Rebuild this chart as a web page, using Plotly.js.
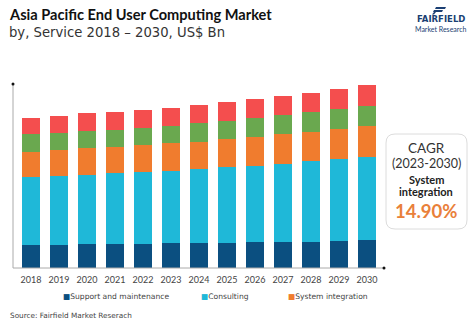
<!DOCTYPE html>
<html>
<head>
<meta charset="utf-8">
<script src="https://cdn.plot.ly/plotly-3.0.1.min.js"></script>
<style>html,body{margin:0;padding:0;background:#fff;}#chart{width:474px;height:323px;}</style>
</head>
<body>
<div id="chart"></div>
<script>
const years = ['2018','2019','2020','2021','2022','2023','2024','2025','2026','2027','2028','2029','2030'];
const supportMaintenance = [22.6,23.3,23.6,24.0,24.3,24.6,24.6,25.3,25.6,26.0,26.3,27.0,28.0];
const consulting = [68.7,69.0,69.7,70.6,71.7,72.7,74.4,75.3,76.7,78.3,80.3,81.6,83.3];
const systemIntegration = [25.0,25.7,26.3,26.7,26.6,27.3,27.3,28.0,28.7,29.3,29.7,30.4,31.0];
const segmentFour = [17.7,17.0,17.0,17.0,17.7,17.7,18.3,18.4,19.0,19.0,19.7,20.0,20.0];
const segmentFive = [16.3,17.3,18.0,17.7,18.0,18.0,18.7,19.0,19.0,19.7,19.3,20.0,20.7];
const seriesNames = ['Support and maintenance','Consulting','System integration','Other services','Managed services'];
const colors = ['#0b4f80','#1fb8d8','#f07c2e','#6aa84f','#f44e4e'];

const font = 'Lato, "Open Sans", sans-serif';
const wideFont = '"DejaVu Sans", Lato, sans-serif';
const xIdx = years.map((_, i) => i);
const data = [supportMaintenance, consulting, systemIntegration, segmentFour, segmentFive].map((vals, k) => ({
  type: 'bar', x: xIdx, y: vals, name: seriesNames[k],
  marker: {color: colors[k], line: {width: 0}},
  showlegend: false, hoverinfo: 'skip'
}));

const W = 371, H = 184, L = 13, T = 84;
const px = X => (X - L) / W;
const py = Y => (T + H - Y) / H;

function roundRect(x0, y0, x1, y1, r) {
  const rx = r / W, ry = r / H;
  const a = px(x0), b = px(x1), top = py(y0), bot = py(y1);
  return `M ${a+rx},${top} L ${b-rx},${top} Q ${b},${top} ${b},${top-ry} L ${b},${bot+ry} Q ${b},${bot} ${b-rx},${bot} L ${a+rx},${bot} Q ${a},${bot} ${a},${bot+ry} L ${a},${top-ry} Q ${a},${top} ${a+rx},${top} Z`;
}

const legendFont = {size: 7.6, color: '#444', family: wideFont};
const annotations = [
  {text: '<b>Asia Pacific End User Computing Market</b>', x: px(7), y: py(14), xanchor: 'left', yanchor: 'middle', font: {size: 14.6, color: '#111', family: font}},
  {text: 'by, Service 2018 – 2030, US$ Bn', x: px(7), y: py(32), xanchor: 'left', yanchor: 'middle', font: {size: 13.2, color: '#333', family: wideFont}},
  {text: '<span style="color:' + colors[0] + '">■</span>' + seriesNames[0], x: px(61), y: py(296), xanchor: 'left', yanchor: 'middle', font: legendFont},
  {text: '<span style="color:' + colors[1] + '">■</span>' + seriesNames[1], x: px(199), y: py(296), xanchor: 'left', yanchor: 'middle', font: legendFont},
  {text: '<span style="color:' + colors[2] + '">■</span>' + seriesNames[2], x: px(286), y: py(296), xanchor: 'left', yanchor: 'middle', font: legendFont},
  {text: 'Source: Fairfield Market Reserach', x: px(8), y: py(315), xanchor: 'left', yanchor: 'middle', font: {size: 7.3, color: '#444', family: wideFont}},
  {text: 'CAGR', x: px(426), y: py(148), xanchor: 'center', yanchor: 'middle', font: {size: 13.5, color: '#333', family: font}},
  {text: '(2023-2030)', x: px(426), y: py(163), xanchor: 'center', yanchor: 'middle', font: {size: 12.5, color: '#333', family: font}},
  {text: '<b>System</b>', x: px(426), y: py(179), xanchor: 'center', yanchor: 'middle', font: {size: 11, color: '#222', family: font}},
  {text: '<b>integration</b>', x: px(426), y: py(191), xanchor: 'center', yanchor: 'middle', font: {size: 11, color: '#222', family: font}},
  {text: '<b>14.90%</b>', x: px(426), y: py(211), xanchor: 'center', yanchor: 'middle', font: {size: 18.5, color: '#e9803a', family: font}},
  {text: '<b>FAIRFIELD</b>', x: px(441), y: py(19.5), xanchor: 'center', yanchor: 'middle', font: {size: 8.5, color: '#1b3f73', family: wideFont}},
  {text: 'Market Research', x: px(441), y: py(29.5), xanchor: 'center', yanchor: 'middle', font: {size: 7, color: '#1b3f73', family: font}}
].map(a => Object.assign({xref: 'paper', yref: 'paper', showarrow: false}, a));

const shapes = [
  {type: 'line', xref: 'paper', yref: 'paper', x0: 0, x1: 0, y0: 0, y1: 1, line: {color: '#aaa', width: 1}},
  {type: 'line', xref: 'paper', yref: 'paper', x0: 0, x1: 1, y0: 0, y1: 0, line: {color: '#aaa', width: 1}},
  {type: 'circle', xref: 'paper', yref: 'paper', x0: px(11.5), x1: px(14.5), y0: py(82.5), y1: py(85.5), fillcolor: '#111', line: {width: 0}},
  {type: 'circle', xref: 'paper', yref: 'paper', x0: px(382.5), x1: px(385.5), y0: py(266.5), y1: py(269.5), fillcolor: '#111', line: {width: 0}},
  {type: 'path', xref: 'paper', yref: 'paper', path: roundRect(386, 134, 467, 229, 9), line: {color: '#dcdcdc', width: 1}, fillcolor: 'rgba(0,0,0,0)'},
  {type: 'path', xref: 'paper', yref: 'paper', path: `M ${px(436)},${py(7)} L ${px(446)},${py(7)} L ${px(445)},${py(9)} L ${px(435)},${py(9)} Z`, fillcolor: '#1b3f73', line: {width: 0}},
  {type: 'path', xref: 'paper', yref: 'paper', path: `M ${px(434)},${py(10)} L ${px(443)},${py(10)} L ${px(442)},${py(12)} L ${px(433)},${py(12)} Z`, fillcolor: '#1b3f73', line: {width: 0}},
  {type: 'path', xref: 'paper', yref: 'paper', path: `M ${px(434)},${py(12)} L ${px(436)},${py(12)} L ${px(434)},${py(14.5)} L ${px(432)},${py(14.5)} Z`, fillcolor: '#1b3f73', line: {width: 0}}
];

const layout = {
  width: 474, height: 323,
  margin: {l: L, r: 474 - L - W, t: T, b: 323 - T - H, pad: 0},
  paper_bgcolor: '#fff', plot_bgcolor: '#fff',
  barmode: 'stack', bargap: 0.357,
  showlegend: false,
  xaxis: {range: [-0.643, 12.607], tickvals: xIdx, ticktext: years, showgrid: false, zeroline: false, showline: false,
    ticks: '', ticklabelstandoff: 5, tickfont: {size: 9, color: '#444', family: font}, fixedrange: true},
  yaxis: {range: [0, 184], showgrid: false, zeroline: false, showline: false, showticklabels: false, ticks: '', fixedrange: true},
  annotations: annotations,
  shapes: shapes
};

Plotly.newPlot('chart', data, layout, {displayModeBar: false, staticPlot: true});
</script>
</body>
</html>
